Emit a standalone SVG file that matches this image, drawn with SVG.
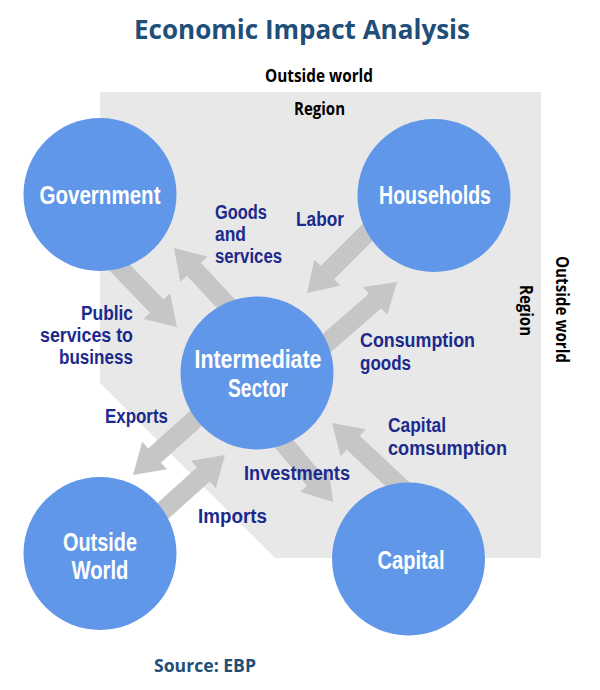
<svg xmlns="http://www.w3.org/2000/svg" width="600" height="690" viewBox="0 0 600 690">
  <style>
    .title{font-family:"Open Sans","Liberation Sans",sans-serif;font-weight:700;font-size:26px;fill:#1F4E79}
    .src{font-family:"Open Sans","Liberation Sans",sans-serif;font-weight:700;font-size:18px;fill:#1F4E79}
    .zone{font-family:"Open Sans","Liberation Sans",sans-serif;font-weight:700;font-size:18px;fill:#000}
    .lbl{font-family:"Liberation Sans",Arial,sans-serif;font-weight:700;font-size:19.5px;fill:#1B2A8C}
    .node{fill:#6197E8}
    .ntxt{font-family:"Liberation Sans",Arial,sans-serif;font-weight:700;font-size:25px;fill:#fff;text-anchor:middle}
    .arr{fill:#C6C6C6}
  </style>
  <rect width="600" height="690" fill="#fff"/>
  <text class="title" x="302" y="39" text-anchor="middle" textLength="336" lengthAdjust="spacingAndGlyphs">Economic Impact Analysis</text>

  <g id="region">
    <polygon points="100,92 541,92 541,558 275,558 100,383" fill="#E8E8E8"/>
    <text class="zone" x="319" y="82" text-anchor="middle" textLength="108" lengthAdjust="spacingAndGlyphs">Outside world</text>
    <text class="zone" x="319.5" y="115" text-anchor="middle" textLength="51" lengthAdjust="spacingAndGlyphs">Region</text>
    <text class="zone" transform="translate(556,309.5) rotate(90)" text-anchor="middle" textLength="107" lengthAdjust="spacingAndGlyphs">Outside world</text>
    <text class="zone" transform="translate(520,310.5) rotate(90)" text-anchor="middle" textLength="51" lengthAdjust="spacingAndGlyphs">Region</text>
  </g>

  <g id="connectors">
    <polygon class="arr" transform="translate(177,327) rotate(46)" points="-90,-9.5 -29,-9.5 -29,-18.5 0,0 -29,18.5 -29,9.5 -90,9.5"/>
    <polygon class="arr" transform="translate(174,248) rotate(-133)" points="-110,-9.5 -29,-9.5 -29,-18.5 0,0 -29,18.5 -29,9.5 -110,9.5"/>
    <polygon class="arr" transform="translate(307,293) rotate(135)" points="-110,-9.5 -29,-9.5 -29,-18.5 0,0 -29,18.5 -29,9.5 -110,9.5"/>
    <polygon class="arr" transform="translate(397,282) rotate(-41)" points="-120,-9.5 -29,-9.5 -29,-18.5 0,0 -29,18.5 -29,9.5 -120,9.5"/>
    <polygon class="arr" transform="translate(133,475) rotate(138)" points="-110,-9.5 -29,-9.5 -29,-18.5 0,0 -29,18.5 -29,9.5 -110,9.5"/>
    <polygon class="arr" transform="translate(225,455) rotate(-42)" points="-100,-9.5 -29,-9.5 -29,-18.5 0,0 -29,18.5 -29,9.5 -100,9.5"/>
    <polygon class="arr" transform="translate(333,502) rotate(50)" points="-100,-9.5 -29,-9.5 -29,-18.5 0,0 -29,18.5 -29,9.5 -100,9.5"/>
    <polygon class="arr" transform="translate(332,423) rotate(-137)" points="-100,-9.5 -29,-9.5 -29,-18.5 0,0 -29,18.5 -29,9.5 -100,9.5"/>
  </g>

  <g id="labels">
    <text class="lbl" x="215" y="219" textLength="52" lengthAdjust="spacingAndGlyphs">Goods</text>
    <text class="lbl" x="215" y="241" textLength="31" lengthAdjust="spacingAndGlyphs">and</text>
    <text class="lbl" x="215" y="263" textLength="67" lengthAdjust="spacingAndGlyphs">services</text>
    <text class="lbl" x="296" y="226" textLength="48" lengthAdjust="spacingAndGlyphs">Labor</text>
    <text class="lbl" x="133" y="320" text-anchor="end" textLength="52" lengthAdjust="spacingAndGlyphs">Public</text>
    <text class="lbl" x="133" y="342" text-anchor="end" textLength="93" lengthAdjust="spacingAndGlyphs">services to</text>
    <text class="lbl" x="133" y="364" text-anchor="end" textLength="74" lengthAdjust="spacingAndGlyphs">business</text>
    <text class="lbl" x="360" y="347" textLength="115" lengthAdjust="spacingAndGlyphs">Consumption</text>
    <text class="lbl" x="360" y="370" textLength="51" lengthAdjust="spacingAndGlyphs">goods</text>
    <text class="lbl" x="105" y="423" textLength="63" lengthAdjust="spacingAndGlyphs">Exports</text>
    <text class="lbl" x="388" y="432" textLength="58" lengthAdjust="spacingAndGlyphs">Capital</text>
    <text class="lbl" x="388" y="455" textLength="119" lengthAdjust="spacingAndGlyphs">comsumption</text>
    <text class="lbl" x="244" y="480" textLength="106" lengthAdjust="spacingAndGlyphs">Investments</text>
    <text class="lbl" x="198" y="523" textLength="69" lengthAdjust="spacingAndGlyphs">Imports</text>
  </g>

  <g id="government">
    <circle class="node" cx="100" cy="194.5" r="76.5"/>
    <text class="ntxt" x="100" y="204" textLength="121" lengthAdjust="spacingAndGlyphs">Government</text>
  </g>
  <g id="households">
    <circle class="node" cx="434" cy="195.5" r="76.5"/>
    <text class="ntxt" x="435" y="204" textLength="112" lengthAdjust="spacingAndGlyphs">Households</text>
  </g>
  <g id="intermediate-sector">
    <circle class="node" cx="257" cy="373" r="76.5"/>
    <text class="ntxt" x="258" y="368" textLength="127" lengthAdjust="spacingAndGlyphs">Intermediate</text>
    <text class="ntxt" x="258" y="397" textLength="60" lengthAdjust="spacingAndGlyphs">Sector</text>
  </g>
  <g id="outside-world">
    <circle class="node" cx="100" cy="553.5" r="76.5"/>
    <text class="ntxt" x="100" y="551" textLength="74" lengthAdjust="spacingAndGlyphs">Outside</text>
    <text class="ntxt" x="100" y="579" textLength="57" lengthAdjust="spacingAndGlyphs">World</text>
  </g>
  <g id="capital">
    <circle class="node" cx="408.5" cy="559" r="76.5"/>
    <text class="ntxt" x="411" y="569" textLength="67" lengthAdjust="spacingAndGlyphs">Capital</text>
  </g>

  <text class="src" x="205" y="672" text-anchor="middle" textLength="102" lengthAdjust="spacingAndGlyphs">Source: EBP</text>
</svg>
